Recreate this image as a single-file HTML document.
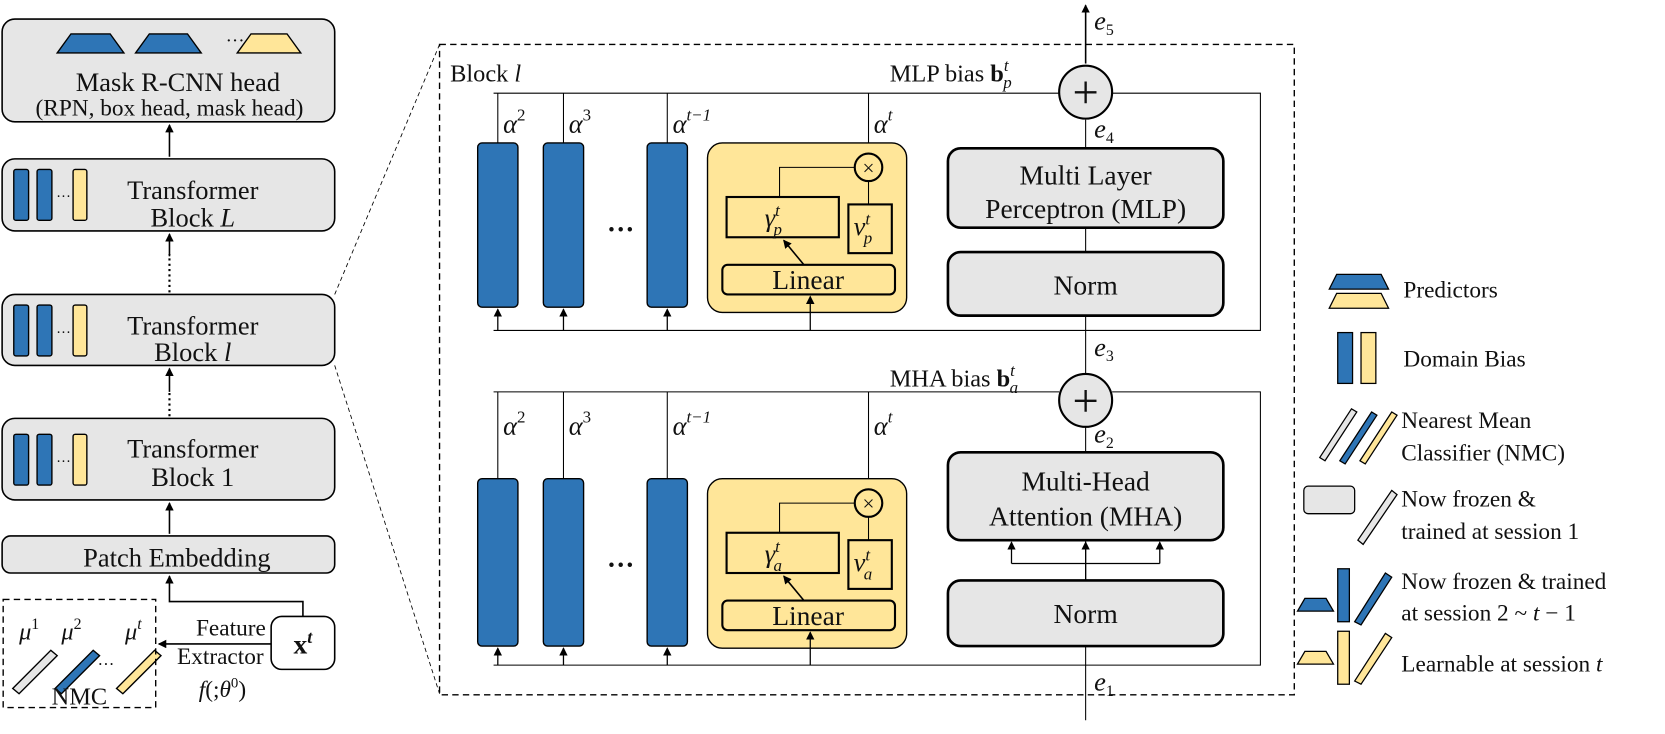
<!DOCTYPE html>
<html><head><meta charset="utf-8"><style>
html,body{margin:0;padding:0;background:#fff}
svg{display:block}
text{font-family:"Liberation Serif",serif;fill:#111}
.i{font-style:italic}
</style></head><body>
<svg width="1665" height="734" viewBox="0 0 1572 693" xmlns="http://www.w3.org/2000/svg">
<defs>
<marker id="ar" markerWidth="8" markerHeight="8" refX="7" refY="4" orient="auto" markerUnits="userSpaceOnUse"><path d="M0,0 L8,4 L0,8 Z" fill="#000"/></marker>
</defs>
<g stroke="#000" stroke-width="1.5" fill="#e6e6e6">
<rect x="2" y="18" width="314" height="97" rx="12"/>
<rect x="2" y="150" width="314" height="68" rx="12"/>
<rect x="2" y="278" width="314" height="67" rx="12"/>
<rect x="2" y="395" width="314" height="77" rx="12"/>
<rect x="2" y="506" width="314" height="35" rx="8"/>
<rect x="256" y="582" width="60" height="50" rx="10" fill="#fff"/>
</g>
<g stroke="#000" stroke-width="1.3">
<polygon points="54,50 67,32 104,32 117,50" fill="#2e75b6"/>
<polygon points="128,50 141,32 177,32 190,50" fill="#2e75b6"/>
<polygon points="224,50 237,32 271,32 284,50" fill="#ffe699"/>
<rect x="13" y="160" width="14" height="48" rx="2" fill="#2e75b6"/><rect x="35" y="160" width="14" height="48" rx="2" fill="#2e75b6"/><rect x="69" y="160" width="13" height="48" rx="2" fill="#ffe699"/>
<rect x="13" y="288" width="14" height="48" rx="2" fill="#2e75b6"/><rect x="35" y="288" width="14" height="48" rx="2" fill="#2e75b6"/><rect x="69" y="288" width="13" height="48" rx="2" fill="#ffe699"/>
<rect x="13" y="410" width="14" height="48" rx="2" fill="#2e75b6"/><rect x="35" y="410" width="14" height="48" rx="2" fill="#2e75b6"/><rect x="69" y="410" width="13" height="48" rx="2" fill="#ffe699"/>
<polygon points="12,650 48,614 54,619 18,655" fill="#e6e6e6"/>
<polygon points="52,650 88,614 94,619 58,655" fill="#2e75b6"/>
<polygon points="110,650 146,614 152,619 116,655" fill="#ffe699"/>
</g>
<text x="213" y="44" font-size="18">···</text>
<text x="53" y="190" font-size="14">···</text><text x="53" y="318" font-size="14">···</text><text x="53" y="440" font-size="14">···</text>
<text x="92" y="632" font-size="16">···</text>
<g font-size="25" text-anchor="middle">
<text x="168" y="86">Mask R-CNN head</text>
<text x="160" y="109" font-size="22">(RPN, box head, mask head)</text>
<text x="182" y="188">Transformer</text><text x="182" y="214">Block <tspan class="i">L</tspan></text>
<text x="182" y="316">Transformer</text><text x="182" y="341">Block <tspan class="i">l</tspan></text>
<text x="182" y="432">Transformer</text><text x="182" y="459">Block 1</text>
<text x="167" y="535">Patch Embedding</text>
<text x="75" y="665" font-size="23">NMC</text>
<text x="218" y="600" font-size="22">Feature</text>
<text x="208" y="627" font-size="22">Extractor</text>
<text x="210" y="658" font-size="22" class="i">f<tspan font-style="normal">(;</tspan>θ<tspan font-size="14" dy="-9" font-style="normal">0</tspan><tspan dy="9" font-style="normal">)</tspan></text>
<text x="286" y="617" font-size="26" font-weight="bold">x<tspan class="i" font-size="17" dy="-10">t</tspan></text>
</g>
<g font-size="23" class="i">
<text x="18" y="604">μ<tspan font-size="15" dy="-10" font-style="normal">1</tspan></text>
<text x="58" y="604">μ<tspan font-size="15" dy="-10" font-style="normal">2</tspan></text>
<text x="118" y="604">μ<tspan font-size="15" dy="-10">t</tspan></text>
</g>
<g stroke="#000" stroke-width="1.5" fill="none">
<line x1="160" y1="148" x2="160" y2="118" marker-end="url(#ar)"/>
<line x1="160" y1="276" x2="160" y2="240" stroke-dasharray="2,3" stroke-width="2"/><line x1="160" y1="242" x2="160" y2="221" marker-end="url(#ar)"/>
<line x1="160" y1="393" x2="160" y2="368" stroke-dasharray="2,3" stroke-width="2"/><line x1="160" y1="370" x2="160" y2="348" marker-end="url(#ar)"/>
<line x1="160" y1="504" x2="160" y2="475" marker-end="url(#ar)"/>
<polyline points="286,582 286,568 160,568 160,544" marker-end="url(#ar)"/>
<line x1="256" y1="608" x2="150" y2="608" marker-end="url(#ar)"/>
<rect x="3" y="566" width="144" height="102" stroke-dasharray="6,4" stroke-width="1.3"/>
<line x1="316" y1="278" x2="415" y2="42" stroke-dasharray="4,3" stroke-width="0.8"/>
<line x1="316" y1="345" x2="415" y2="655" stroke-dasharray="4,3" stroke-width="0.8"/>
<rect x="415" y="42" width="807" height="614" stroke-dasharray="6,4" stroke-width="1.3"/>
</g>
<text x="425" y="77" font-size="23">Block <tspan class="i">l</tspan></text>

<g stroke="#000" stroke-width="1" fill="none">
<polyline points="1000,88 466,88"/><polyline points="1050,88 1190,88 1190,312 466,312"/>
<polyline points="1000,370 466,370"/><polyline points="1050,370 1190,370 1190,628 466,628"/>
<line x1="470" y1="88" x2="470" y2="135"/><line x1="532" y1="88" x2="532" y2="135"/><line x1="630" y1="88" x2="630" y2="135"/><line x1="820" y1="88" x2="820" y2="145"/>
<line x1="470" y1="370" x2="470" y2="452"/><line x1="532" y1="370" x2="532" y2="452"/><line x1="630" y1="370" x2="630" y2="452"/><line x1="820" y1="370" x2="820" y2="462"/>
<line x1="1025" y1="60" x2="1025" y2="5" marker-end="url(#ar)" stroke-width="1.5"/>
<line x1="1025" y1="113" x2="1025" y2="353"/>
<line x1="1025" y1="403" x2="1025" y2="680"/>
</g>
<g stroke="#000" stroke-width="1.3" fill="#2e75b6">
<rect x="451" y="135" width="38" height="155" rx="4"/><rect x="513" y="135" width="38" height="155" rx="4"/><rect x="611" y="135" width="38" height="155" rx="4"/>
<rect x="451" y="452" width="38" height="158" rx="4"/><rect x="513" y="452" width="38" height="158" rx="4"/><rect x="611" y="452" width="38" height="158" rx="4"/>
</g>
<g stroke="#000" stroke-width="1.3" fill="#ffe699">
<rect x="668" y="135" width="188" height="160" rx="14"/>
<rect x="668" y="452" width="188" height="160" rx="14"/>
</g>
<g stroke="#000" fill="none">
<g stroke-width="2">
<rect x="686" y="186" width="106" height="38"/><rect x="801" y="193" width="41" height="46"/><rect x="682" y="250" width="163" height="28" rx="5"/>
<rect x="686" y="503" width="106" height="38"/><rect x="801" y="510" width="41" height="46"/><rect x="682" y="567" width="163" height="28" rx="5"/>
<circle cx="820" cy="158" r="13" fill="#ffe699"/><circle cx="820" cy="475" r="13" fill="#ffe699"/>
</g>
<polyline points="807,158 736,158 736,186" stroke-width="1"/><line x1="820" y1="171" x2="820" y2="193" stroke-width="1"/>
<polyline points="807,475 736,475 736,503" stroke-width="1"/><line x1="820" y1="488" x2="820" y2="510" stroke-width="1"/>
<line x1="759" y1="250" x2="740" y2="227" stroke-width="1.5" marker-end="url(#ar)"/>
<line x1="759" y1="567" x2="740" y2="544" stroke-width="1.5" marker-end="url(#ar)"/>
<g stroke-width="1.2">
<line x1="470" y1="312" x2="470" y2="292" marker-end="url(#ar)"/><line x1="532" y1="312" x2="532" y2="292" marker-end="url(#ar)"/><line x1="630" y1="312" x2="630" y2="292" marker-end="url(#ar)"/><line x1="765" y1="312" x2="765" y2="280" marker-end="url(#ar)"/>
<line x1="470" y1="628" x2="470" y2="612" marker-end="url(#ar)"/><line x1="532" y1="628" x2="532" y2="612" marker-end="url(#ar)"/><line x1="630" y1="628" x2="630" y2="612" marker-end="url(#ar)"/><line x1="765" y1="628" x2="765" y2="597" marker-end="url(#ar)"/>
<polyline points="955,532 1095,532"/>
<line x1="955" y1="532" x2="955" y2="512" marker-end="url(#ar)"/><line x1="1025" y1="548" x2="1025" y2="512" marker-end="url(#ar)"/><line x1="1095" y1="532" x2="1095" y2="512" marker-end="url(#ar)"/>
</g>
</g>
<text x="820" y="165" font-size="20" text-anchor="middle">×</text><text x="820" y="482" font-size="20" text-anchor="middle">×</text>
<g stroke="#000" stroke-width="2.5" fill="#e6e6e6">
<rect x="895" y="140" width="260" height="75" rx="12"/>
<rect x="895" y="238" width="260" height="60" rx="12"/>
<rect x="895" y="427" width="260" height="83" rx="12"/>
<rect x="895" y="548" width="260" height="62" rx="12"/>
<circle cx="1025" cy="87" r="25" stroke-width="2"/>
<circle cx="1025" cy="378" r="25" stroke-width="2"/>
</g>
<g font-size="44" text-anchor="middle"><text x="1025" y="102">+</text><text x="1025" y="393">+</text></g>
<g font-size="26" text-anchor="middle">
<text x="1025" y="174">Multi Layer</text><text x="1025" y="206">Perceptron (MLP)</text>
<text x="1025" y="278">Norm</text>
<text x="1025" y="463">Multi-Head</text><text x="1025" y="496">Attention (MHA)</text>
<text x="1025" y="588">Norm</text>
</g>
<g font-size="25" class="i">
<text x="475" y="125">α<tspan font-size="16" dy="-11" font-style="normal">2</tspan></text>
<text x="537" y="125">α<tspan font-size="16" dy="-11" font-style="normal">3</tspan></text>
<text x="635" y="125">α<tspan font-size="16" dy="-11">t−1</tspan></text>
<text x="825" y="125">α<tspan font-size="16" dy="-11">t</tspan></text>
<text x="475" y="410">α<tspan font-size="16" dy="-11" font-style="normal">2</tspan></text>
<text x="537" y="410">α<tspan font-size="16" dy="-11" font-style="normal">3</tspan></text>
<text x="635" y="410">α<tspan font-size="16" dy="-11">t−1</tspan></text>
<text x="825" y="410">α<tspan font-size="16" dy="-11">t</tspan></text>
<text x="722" y="214">γ<tspan font-size="16" dy="-10">t</tspan><tspan font-size="16" dx="-6" dy="18">p</tspan></text>
<text x="806" y="222">v<tspan font-size="16" dy="-10">t</tspan><tspan font-size="16" dx="-6" dy="18">p</tspan></text>
<text x="722" y="531">γ<tspan font-size="16" dy="-10">t</tspan><tspan font-size="16" dx="-6" dy="18">a</tspan></text>
<text x="806" y="539">v<tspan font-size="16" dy="-10">t</tspan><tspan font-size="16" dx="-6" dy="18">a</tspan></text>
<text x="1033" y="28">e<tspan font-size="15" dy="5" font-style="normal">5</tspan></text>
<text x="1033" y="130">e<tspan font-size="15" dy="5" font-style="normal">4</tspan></text>
<text x="1033" y="336">e<tspan font-size="15" dy="5" font-style="normal">3</tspan></text>
<text x="1033" y="418">e<tspan font-size="15" dy="5" font-style="normal">2</tspan></text>
<text x="1033" y="652">e<tspan font-size="15" dy="5" font-style="normal">1</tspan></text>
</g>
<g font-size="26" font-weight="bold"><text x="573" y="225">···</text><text x="573" y="542">···</text></g>
<g font-size="26" text-anchor="middle"><text x="763" y="273">Linear</text><text x="763" y="590">Linear</text></g>
<text x="840" y="77" font-size="23">MLP bias <tspan font-weight="bold">b</tspan><tspan class="i" font-size="16" dy="-10">t</tspan><tspan class="i" font-size="16" dx="-5" dy="16">p</tspan></text>
<text x="840" y="365" font-size="23">MHA bias <tspan font-weight="bold">b</tspan><tspan class="i" font-size="16" dy="-10">t</tspan><tspan class="i" font-size="16" dx="-5" dy="16">a</tspan></text>

<g stroke="#000" stroke-width="1.2">
<polygon points="1255,273 1262,259 1304,259 1311,273" fill="#2e75b6"/>
<polygon points="1255,291 1262,277 1304,277 1311,291" fill="#ffe699"/>
<rect x="1263" y="314" width="14" height="48" fill="#2e75b6"/><rect x="1285" y="314" width="14" height="48" fill="#ffe699"/>
<polygon points="1246,432 1276,386 1281,389 1251,435" fill="#e6e6e6"/>
<polygon points="1265,435 1295,389 1300,392 1270,438" fill="#2e75b6"/>
<polygon points="1284,435 1314,389 1319,392 1289,438" fill="#ffe699"/>
<rect x="1231" y="459" width="48" height="26" rx="4" fill="#e6e6e6"/>
<polygon points="1282,510 1314,463 1319,467 1287,514" fill="#e6e6e6"/>
<polygon points="1225,577 1232,565 1252,565 1259,577" fill="#2e75b6"/>
<rect x="1263" y="537" width="11" height="50" fill="#2e75b6"/>
<polygon points="1279,587 1308,541 1314,545 1285,590" fill="#2e75b6"/>
<polygon points="1225,627 1232,615 1252,615 1259,627" fill="#ffe699"/>
<rect x="1263" y="596" width="11" height="50" fill="#ffe699"/>
<polygon points="1279,643 1308,598 1314,602 1285,646" fill="#ffe699"/>
</g>
<g font-size="22">
<text x="1325" y="281">Predictors</text>
<text x="1325" y="346">Domain Bias</text>
<text x="1323" y="404">Nearest Mean</text>
<text x="1323" y="435">Classifier (NMC)</text>
<text x="1323" y="478">Now frozen &amp;</text>
<text x="1323" y="509">trained at session 1</text>
<text x="1323" y="556">Now frozen &amp; trained</text>
<text x="1323" y="586">at session 2 ~ <tspan class="i">t</tspan> − 1</text>
<text x="1323" y="634">Learnable at session <tspan class="i">t</tspan></text>
</g>
</svg>
</body></html>
